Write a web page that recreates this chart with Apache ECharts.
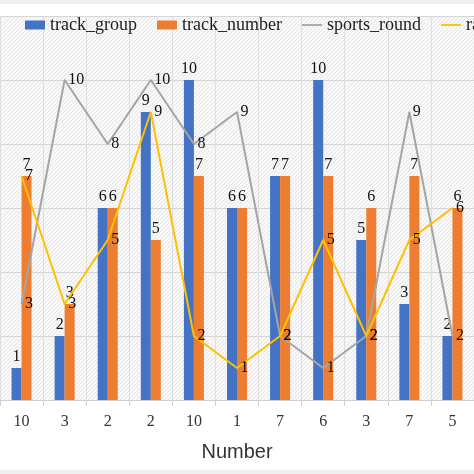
<!DOCTYPE html>
<html>
<head>
<meta charset="utf-8">
<script src="https://cdn.jsdelivr.net/npm/echarts@6/dist/echarts.min.js"></script>
<style>
  html, body { margin: 0; padding: 0; background: #fff; }
  #chart { width: 474px; height: 474px; }
</style>
</head>
<body>
<div id="chart"></div>
<script>
const categories = ['10', '3', '2', '2', '10', '1', '7', '6', '3', '7', '5']
const trackGroup = [1, 2, 6, 9, 10, 6, 7, 10, 5, 3, 2]
const trackNumber = [7, 3, 6, 5, 7, 6, 7, 7, 6, 7, 6]
const sportsRound = [3, 10, 8, 10, 8, 9, 2, 1, 2, 9, 2]
const raceRound = [7, 3, 5, 9, 2, 1, 2, 5, 2, 5, 6]

const SERIF = '"Liberation Serif", "Times New Roman", serif'
const LINE_ICON = 'path://M0,0 L22,0 L22,2 L0,2 Z'

// light diagonal hatch like the plot background of the original
function hatch () {
  const c = document.createElement('canvas')
  c.width = 4
  c.height = 4
  const ctx = c.getContext('2d')
  ctx.fillStyle = '#f8f8f8'
  ctx.fillRect(0, 0, 4, 4)
  ctx.strokeStyle = '#e6e6e6'
  ctx.lineWidth = 1
  ctx.beginPath()
  ctx.moveTo(0, 4)
  ctx.lineTo(4, 0)
  ctx.stroke()
  return c
}

const chart = echarts.init(document.getElementById('chart'))

const labelStyle = { color: '#111', fontFamily: SERIF, fontSize: 16 }

const bar = (name, data, color) => ({
  name,
  type: 'bar',
  data,
  barWidth: 10,
  barGap: '0%',
  itemStyle: { color },
  label: Object.assign({ show: true, position: 'top', distance: 3 }, labelStyle)
})

const line = (name, data, color) => ({
  name,
  type: 'line',
  data,
  symbol: 'circle',
  symbolSize: 1,
  showSymbol: true,
  lineStyle: { color, width: 2 },
  itemStyle: { color },
  labelLayout: { hideOverlap: false },
  label: Object.assign({ show: true, position: 'right', distance: 3 }, labelStyle)
})

chart.setOption({
  animation: false,
  backgroundColor: '#fff',
  graphic: [
    { type: 'rect', shape: { x: 0, y: 0, width: 474, height: 4 }, style: { fill: '#efefef' } },
    { type: 'rect', shape: { x: 0, y: 470, width: 474, height: 4 }, style: { fill: '#efefef' } }
  ],
  legend: {
    top: 16,
    left: 25,
    padding: 0,
    width: 900,
    itemWidth: 20,
    itemHeight: 9,
    itemGap: 20,
    textStyle: { fontFamily: SERIF, fontSize: 18, color: '#222' },
    data: [
      { name: 'track_group', icon: 'rect' },
      { name: 'track_number', icon: 'rect' },
      { name: 'sports_round', icon: LINE_ICON },
      { name: 'race_round', icon: LINE_ICON }
    ]
  },
  grid: {
    left: -15,
    right: -17,
    top: 16,
    bottom: 74,
    show: true,
    borderWidth: 0,
    backgroundColor: { image: hatch(), repeat: 'repeat' }
  },
  xAxis: {
    type: 'category',
    data: categories,
    name: 'Number',
    nameLocation: 'middle',
    nameGap: 42,
    nameTextStyle: { fontFamily: '"Liberation Sans", Arial, sans-serif', fontSize: 20, color: '#333' },
    axisLine: { lineStyle: { color: '#d0d0d0' } },
    axisTick: { show: true, length: 6, lineStyle: { color: '#d0d0d0' } },
    axisLabel: { fontFamily: SERIF, fontSize: 16, color: '#333', margin: 14 },
    splitLine: { show: true, lineStyle: { color: '#dedede' } }
  },
  yAxis: {
    type: 'value',
    min: 0,
    max: 12,
    interval: 2,
    axisLabel: { show: false },
    axisLine: { show: false },
    axisTick: { show: false },
    splitLine: { lineStyle: { color: '#d6d6d6' } }
  },
  series: [
    bar('track_group', trackGroup, '#4472C4'),
    bar('track_number', trackNumber, '#ED7D31'),
    line('sports_round', sportsRound, '#A5A5A5'),
    line('race_round', raceRound, '#FFC000')
  ]
})
</script>
</body>
</html>
